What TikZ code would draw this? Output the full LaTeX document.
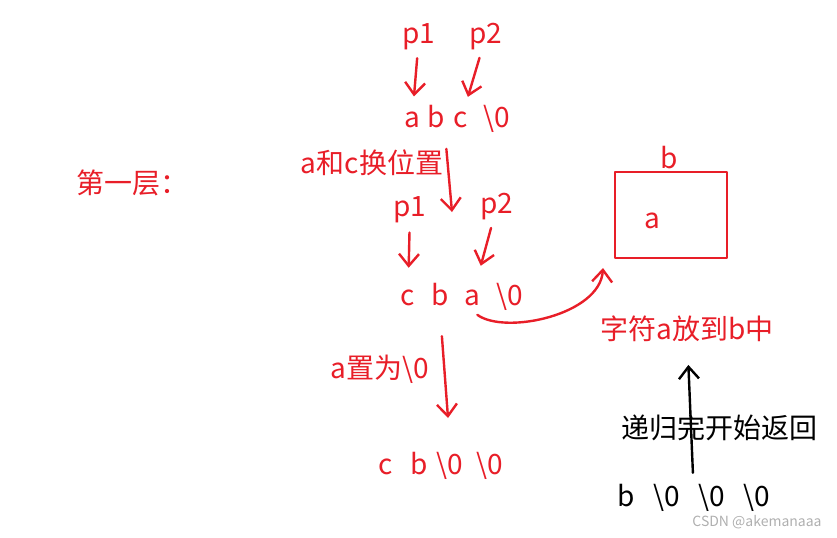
\documentclass[tikz,border=0pt]{standalone}
\usepackage{fontspec}
\setmainfont{Noto Sans CJK SC}
\usepackage{xcolor}
\usepackage{tikz}
\usetikzlibrary{arrows.meta}
\definecolor{inkred}{RGB}{232,30,40}
\definecolor{markgray}{RGB}{175,175,175}
\tikzset{
  every pen/.style={line cap=round,line join=round},
}

\begin{document}
\begin{tikzpicture}[x=0.75pt,y=-0.75pt,>={Straight Barb[length=9pt,width=15pt]}]
		\tikzstyle{txt}=[inner sep=0pt,text height=15pt,text depth=4pt,font=\fontsize{21}{25}\selectfont]
		\tikzstyle{redtxt}=[txt,text=inkred]
		\tikzstyle{pen}=[draw=inkred,line width=1.8pt,every pen]
		\tikzstyle{blackpen}=[draw=black,line width=1.8pt,every pen]
		\useasboundingbox (0,0) rectangle (837,537);

		\node[redtxt] (p1top) at (419,36) {p1};
		\node[redtxt] (p2top) at (486,36) {p2};
		\node[redtxt] (a1) at (412,120) {a};
		\node[redtxt] (b1) at (436,120) {b};
		\node[redtxt] (c1) at (461,120) {c};
		\node[redtxt] (z1) at (497,120) {\textbackslash0};

		\node[redtxt] (swap) at (372,166) {a和c换位置};
		\node[redtxt] (layer) at (132,186) {第一层：};

		\node[redtxt] (p1low) at (410,209) {p1};
		\node[redtxt] (p2low) at (497,206) {p2};
		\node[redtxt] (c2) at (408,298) {c};
		\node[redtxt] (b2) at (440,298) {b};
		\node[redtxt] (a2) at (472,298) {a};
		\node[redtxt] (z2) at (510,298) {\textbackslash0};

		\node[pen,minimum width=84pt,minimum height=64.5pt,inner sep=0pt] (boxb) at (671,215) {};
		\node[redtxt] (boxname) at (669,161) {b};
		\node[redtxt] (boxchar) at (652,221) {a};
		\node[redtxt] (put) at (687,332) {字符a放到b中};

		\node[redtxt] (setnull) at (380,371) {a置为\textbackslash0};
		\node[redtxt] (row3) at (441,467) {c\hspace{13pt}b\hspace{7pt}\textbackslash0\hspace{10pt}\textbackslash0};

		\node[txt] (back) at (719,431) {递归完开始返回};
		\node[txt] (row4) at (694,499) {b\hspace{14pt}\textbackslash0\hspace{14pt}\textbackslash0\hspace{14pt}\textbackslash0};
		\node[inner sep=0pt,text=markgray,font=\fontsize{10.5}{12}\selectfont] (mark) at (757,522) {CSDN @akemanaaa};

		\coordinate (swapend) at (452,212);
		\coordinate (putend) at (603,268);
		\coordinate (nullend) at (448,418);

		\draw[pen,->,shorten <=7pt,shorten >=8pt] (p1top) -- (a1);
		\draw[pen,->,shorten <=7pt,shorten >=8pt] (p2top) -- (c1);
		\draw[pen,->,shorten <=12pt] (b1.south east) -- (swapend);
		\draw[pen,->,shorten <=8pt,shorten >=13pt] (p1low) -- (c2);
		\draw[pen,->,shorten <=7pt,shorten >=15pt] (p2low) -- (a2);
		\draw[pen,->,shorten <=5pt] (a2.south) .. controls (505,335) and (600,315) .. (putend);
		\draw[pen,->,shorten <=19pt] (b2.south) -- (nullend);
		\draw[blackpen,->,shorten <=10pt,shorten >=15pt] (row4) -- (put);

	\end{tikzpicture}
\end{document}
